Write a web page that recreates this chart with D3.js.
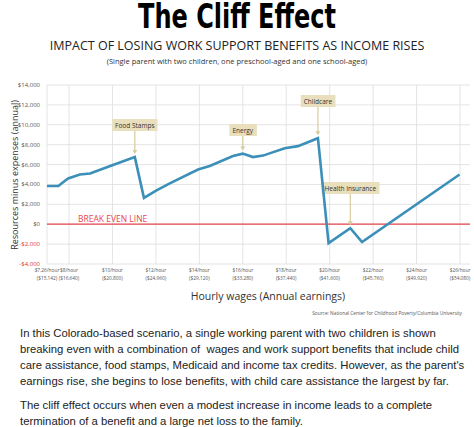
<!DOCTYPE html>
<html><head><meta charset="utf-8">
<script src="https://cdn.jsdelivr.net/npm/d3@7"></script>
<style>body{margin:0;background:#fff}</style>
</head><body><div id="chart"></div>
<script>
// wage ($/hour) vs resources minus expenses ($)
const wages  = [7.26, 7.64, 7.97, 8.5, 8.97, 9.96, 11.03, 11.45, 12.03, 12.64, 13.94, 14.48, 15.55, 16.0, 16.47, 16.93, 17.93, 18.54, 19.46, 19.95, 20.95, 21.49, 25.98];
const values = [3850, 3850, 4600, 5000, 5100, 5900, 6750, 2650, 3400, 4100, 5500, 5850, 6850, 7100, 6750, 6900, 7650, 7850, 8650, -1900, -400, -1800, 5000];
const xTicks = [7.26, 8, 10, 12, 14, 16, 18, 20, 22, 24, 26];
const xTickLabels = ["$7.26/hour", "$8/hour", "$10/hour", "$12/hour", "$14/hour", "$16/hour", "$18/hour", "$20/hour", "$22/hour", "$24/hour", "$26/hour"];
const xTickSub = ["($15,142)", "($16,640)", "($20,800)", "($24,960)", "($29,120)", "($33,280)", "($37,440)", "($41,600)", "($45,760)", "($49,920)", "($54,080)"];
const yTicks = [-4000, -2000, 0, 2000, 4000, 6000, 8000, 10000, 12000, 14000];
const notes = [
  {label: "Food Stamps", wage: 11.03, value: 6750, boxY: 125},
  {label: "Energy", wage: 16.0, value: 7100, boxY: 130},
  {label: "Childcare", wage: 19.46, value: 8650, boxY: 101},
  {label: "Health Insurance", wage: 20.95, value: -400, boxY: 188}
];

const W = 474, H = 427;
const svg = d3.select("#chart").append("svg").attr("width", W).attr("height", H)
  .style("font-family", "'Open Sans', sans-serif");

const x = d3.scaleLinear().domain([7.26, 8, 26]).range([47, 69, 460]);
const y = d3.scaleLinear().domain([-4000, 14000]).range([264, 85]);

// title block
svg.append("text").attr("x", 237).attr("y", 28).attr("text-anchor", "middle")
  .style("font-family", "'Liberation Sans Narrow','DejaVu Sans Condensed',sans-serif")
  .style("font-weight", "bold").style("font-size", "33px").attr("textLength", 198)
  .attr("lengthAdjust", "spacingAndGlyphs").text("The Cliff Effect");
svg.append("text").attr("x", 237).attr("y", 50).attr("text-anchor", "middle")
  .style("font-size", "12.5px").attr("fill", "#222")
  .text("IMPACT OF LOSING WORK SUPPORT BENEFITS AS INCOME RISES");
svg.append("text").attr("x", 237).attr("y", 64).attr("text-anchor", "middle")
  .style("font-size", "7.5px").attr("fill", "#333")
  .text("(Single parent with two children, one preschool-aged and one school-aged)");

// grid
const g = svg.append("g");
g.selectAll(".vg").data(xTicks).join("line")
  .attr("x1", d => x(d)).attr("x2", d => x(d)).attr("y1", 85).attr("y2", 264)
  .attr("stroke", "#ddd").attr("stroke-width", 0.8);
g.selectAll(".hg").data(yTicks).join("line")
  .attr("x1", 47).attr("x2", 470).attr("y1", d => y(d)).attr("y2", d => y(d))
  .attr("stroke", "#ddd").attr("stroke-width", 0.8);

// y ticks
g.selectAll(".yl").data(yTicks).join("text")
  .attr("x", 40).attr("y", d => y(d) + 2).attr("text-anchor", "end")
  .style("font-size", "6px").attr("fill", d => d < 0 ? "#d33" : "#555")
  .text(d => (d < 0 ? "-$" : "$") + d3.format(",")(Math.abs(d)));
// x ticks
g.selectAll(".xl").data(xTicks).join("text")
  .attr("x", d => x(d)).attr("y", 272).attr("text-anchor", "middle")
  .style("font-size", "4.8px").attr("fill", "#555")
  .text((d, i) => xTickLabels[i]);
g.selectAll(".xs").data(xTicks).join("text")
  .attr("x", d => x(d)).attr("y", 280).attr("text-anchor", "middle")
  .style("font-size", "4.8px").attr("fill", "#555")
  .text((d, i) => xTickSub[i]);

// axis titles
svg.append("text").attr("transform", "translate(18,175) rotate(-90)").attr("text-anchor", "middle")
  .style("font-size", "9px").attr("fill", "#333").text("Resources minus expenses (annual)");
svg.append("text").attr("x", 268).attr("y", 300).attr("text-anchor", "middle")
  .style("font-size", "10.5px").attr("fill", "#333").text("Hourly wages (Annual earnings)");
svg.append("text").attr("x", 462).attr("y", 315).attr("text-anchor", "end")
  .style("font-size", "4.8px").attr("fill", "#555")
  .text("Source: National Center for Childhood Poverty/Columbia University");

// break even
g.append("line").attr("x1", 47).attr("x2", 470).attr("y1", y(0)).attr("y2", y(0))
  .attr("stroke", "#e8464f").attr("stroke-width", 1.2);
g.append("text").attr("x", 78).attr("y", y(0) - 2).style("font-size", "8.5px")
  .attr("fill", "#e8464f").text("BREAK EVEN LINE");

// annotations
notes.forEach(n => {
  const t = g.append("text").attr("x", x(n.wage)).attr("y", n.boxY + 3)
    .attr("text-anchor", "middle").style("font-size", "6.5px").attr("fill", "#333").text(n.label);
  const bb = t.node().getBBox();
  g.insert("rect", "text").attr("x", bb.x - 3).attr("y", n.boxY - 6).attr("width", bb.width + 6)
    .attr("height", 12).attr("fill", "#e9dfbc");
  g.append("line").attr("x1", x(n.wage)).attr("x2", x(n.wage))
    .attr("y1", n.boxY + 6).attr("y2", y(n.value) - 5).attr("stroke", "#d9cb9c").attr("stroke-width", 1.2);
  g.append("path").attr("d", `M${x(n.wage) - 2.5},${y(n.value) - 7}L${x(n.wage) + 2.5},${y(n.value) - 7}L${x(n.wage)},${y(n.value) - 3}Z`)
    .attr("fill", "#d9cb9c");
});

// series line
const pts = wages.map((w, i) => [w, values[i]]);
g.append("path").datum(pts)
  .attr("d", d3.line().x(d => x(d[0])).y(d => y(d[1])))
  .attr("fill", "none").attr("stroke", "#3b8fb8").attr("stroke-width", 2.6)
  .attr("stroke-linejoin", "miter");

// paragraphs
const para = [
  ["In this Colorado-based scenario, a single working parent with two children is shown",
   "breaking even with a combination of  wages and work support benefits that include child",
   "care assistance, food stamps, Medicaid and income tax credits. However, as the parent's",
   "earnings rise, she begins to lose benefits, with child care assistance the largest by far."],
  ["The cliff effect occurs when even a modest increase in income leads to a complete",
   "termination of a benefit and a large net loss to the family."]
];
const starts = [337, 409];
para.forEach((lines, p) => {
  lines.forEach((l, i) => {
    svg.append("text").attr("x", 20).attr("y", starts[p] + i * 16)
      .style("font-family", "'Liberation Sans', Arial, sans-serif")
      .style("font-size", "11.3px").attr("fill", "#222").attr("xml:space", "preserve").text(l);
  });
});
</script></body></html>
